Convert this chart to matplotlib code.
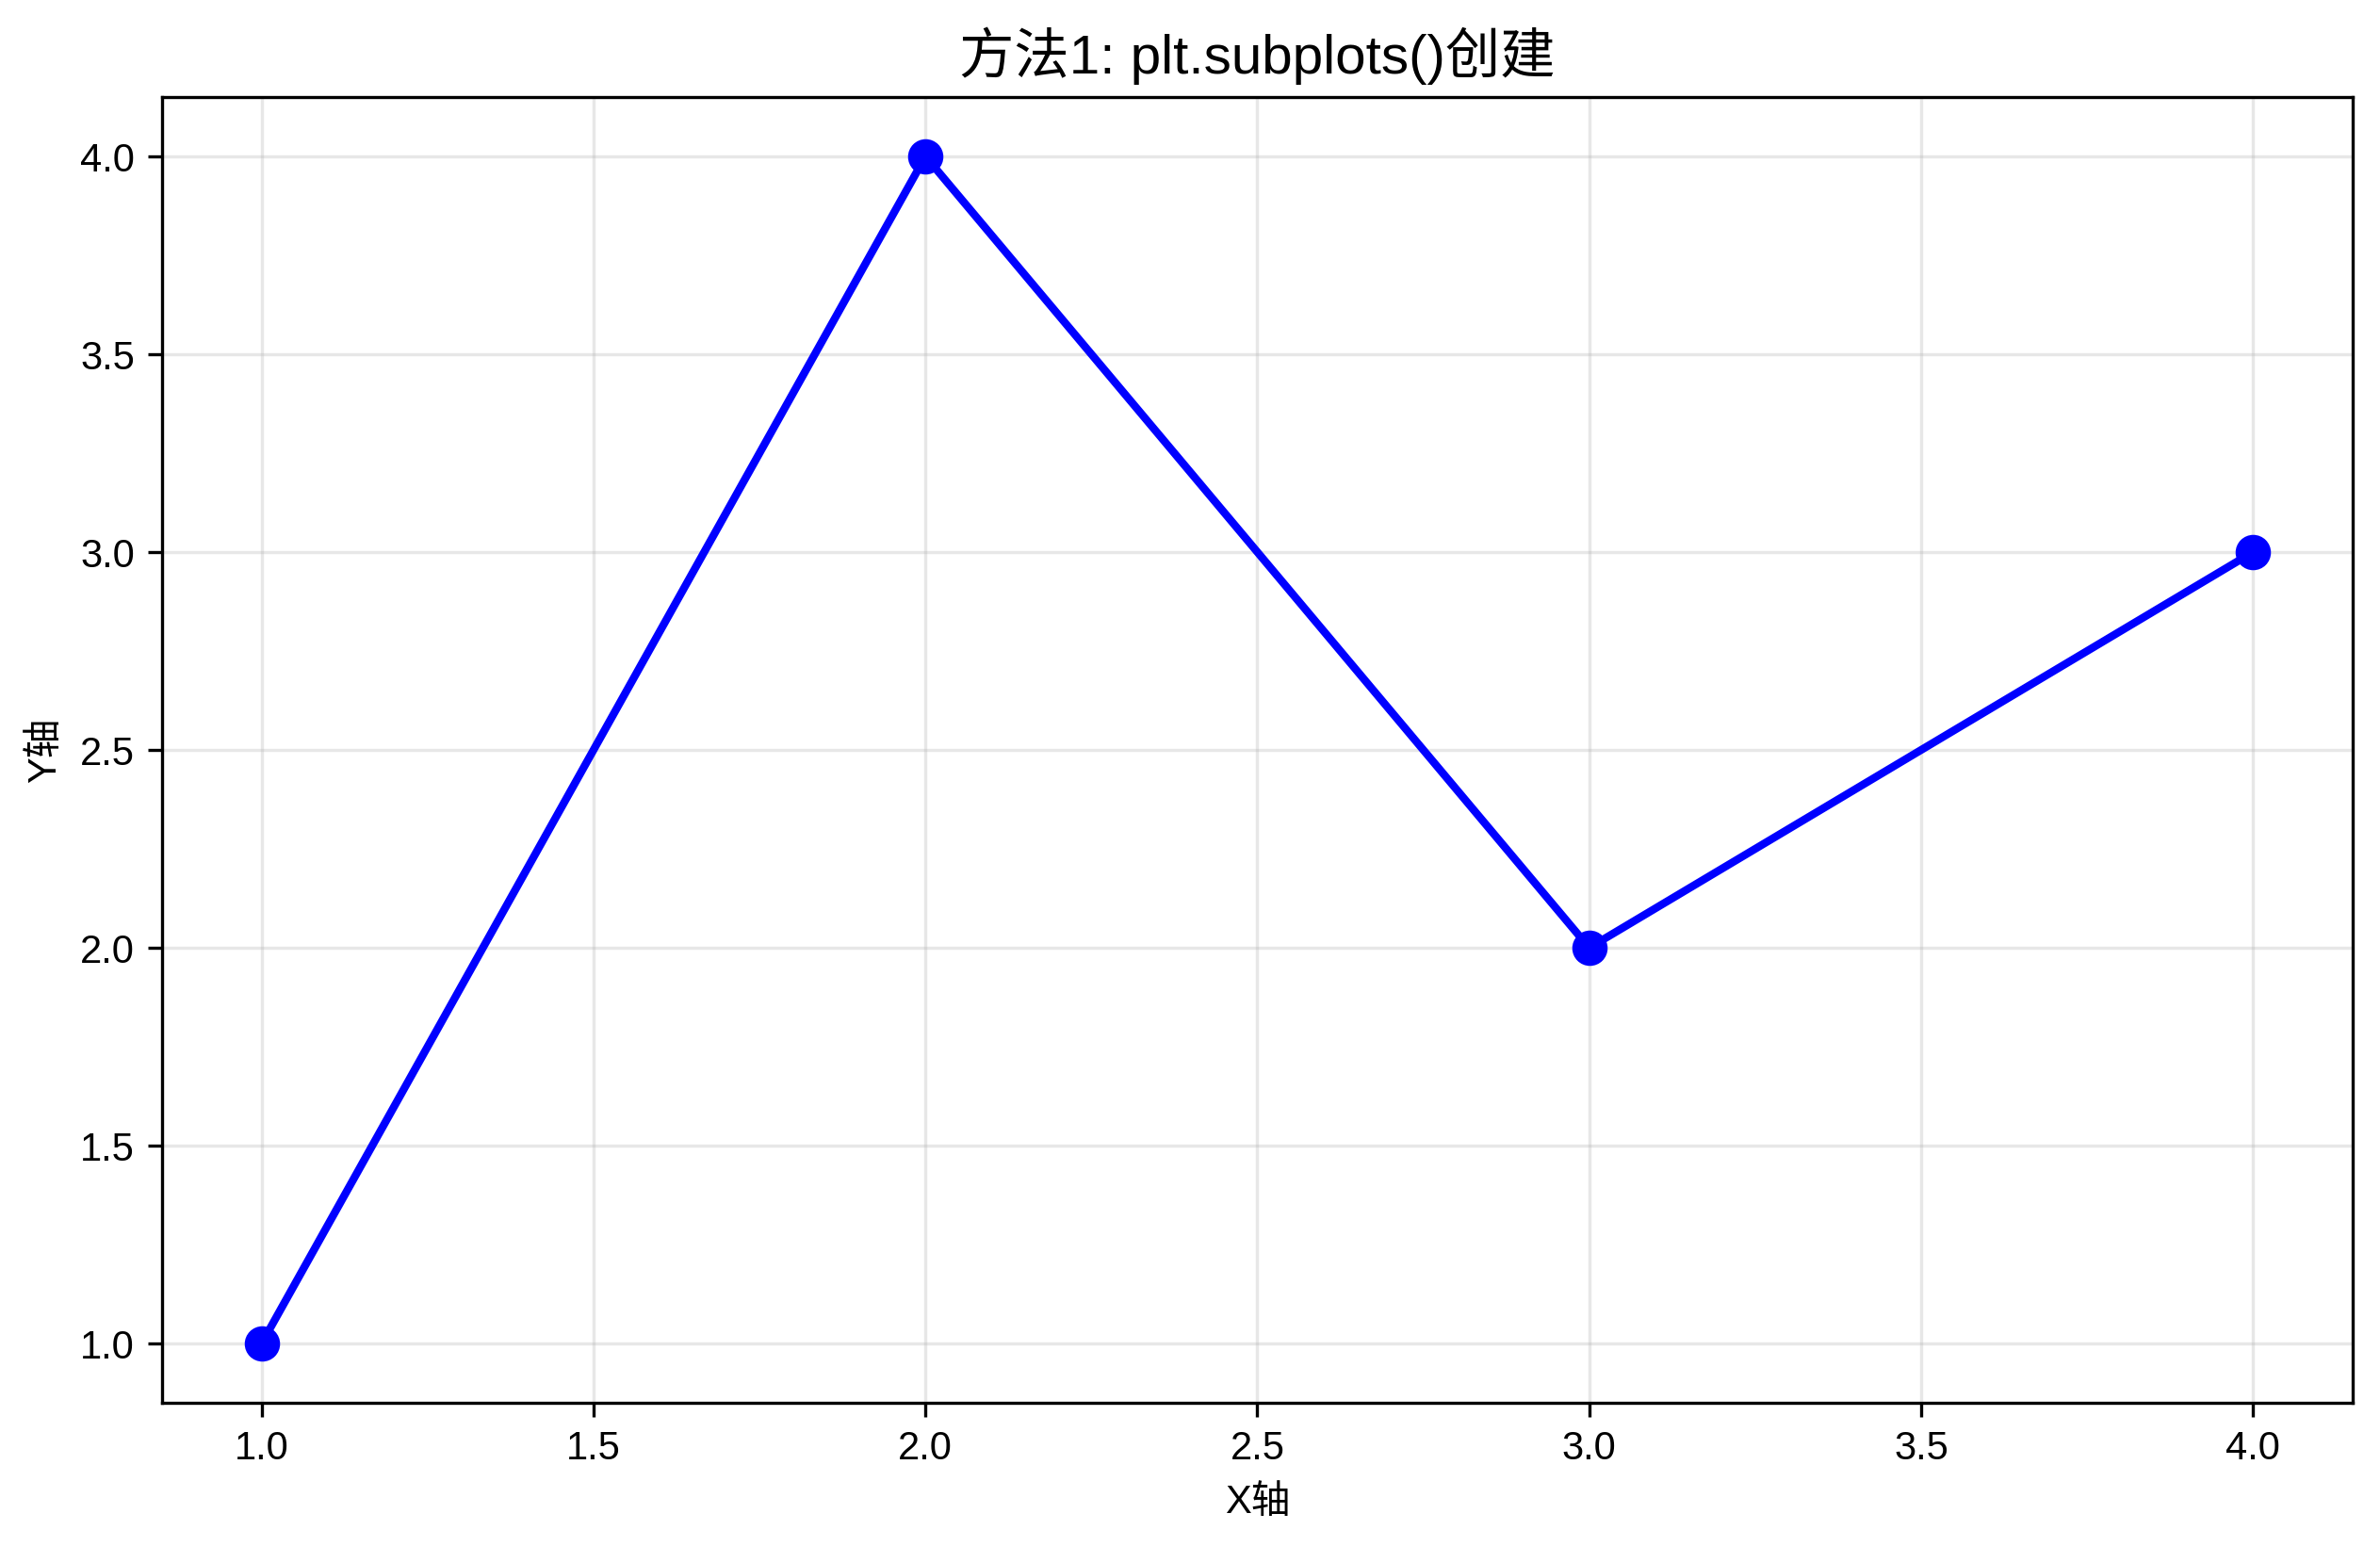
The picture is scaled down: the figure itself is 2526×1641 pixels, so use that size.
import matplotlib
matplotlib.use('Agg')
import matplotlib.pyplot as plt

plt.rcParams['font.family'] = ['Liberation Sans', 'Noto Sans CJK SC', 'DejaVu Sans']
plt.rcParams['axes.unicode_minus'] = False

# data
x = [1, 2, 3, 4]
y = [1, 4, 2, 3]

# fixed canvas 2526x1641 px at 300 dpi, axes placed like the original tight layout
fig = plt.figure(figsize=(2526 / 300, 1641 / 300), dpi=300)
ax = fig.add_axes([172 / 2526, 152 / 1641, 2325 / 2526, 1386 / 1641])
ax.plot(x, y, color='blue', marker='o', linewidth=2, markersize=8)
ax.set_title('方法1: plt.subplots()创建', fontsize=14)
ax.set_xlabel('X轴')
ax.set_ylabel('Y轴')
ax.grid(True, alpha=0.3)

fig.savefig('out.png', dpi=300)
